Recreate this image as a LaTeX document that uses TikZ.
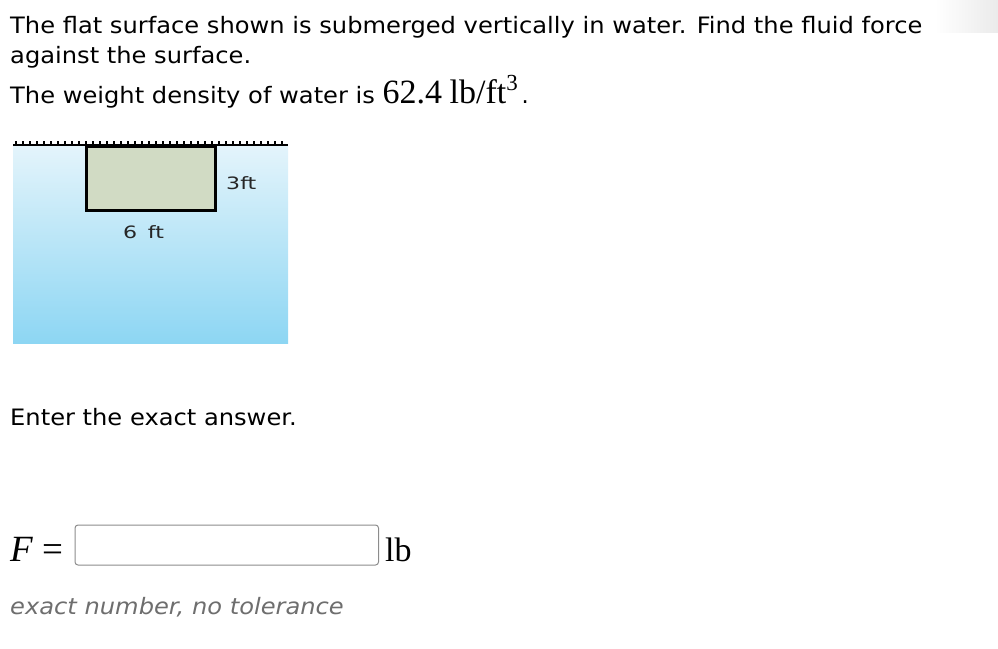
\documentclass[tikz,border=0pt]{standalone}
\usepackage{fontspec}
\usepackage{graphicx}
\setmainfont{DejaVu Sans}
\newfontfamily\mathserif{Liberation Serif}
\usetikzlibrary{positioning,calc,fadings}
\definecolor{water_top}{RGB}{228,244,251}
\definecolor{water_bottom}{RGB}{141,214,243}
\definecolor{plate_fill}{RGB}{209,219,196}
\definecolor{hint_gray}{RGB}{110,110,110}
\definecolor{box_gray}{RGB}{140,140,140}
\newcommand{\wide}[1]{\scalebox{1.069}[1]{#1}}

\begin{document}
\begin{tikzpicture}[x=1pt,y=-1pt,
    qtext/.style={anchor=base west, inner sep=0pt, font=\fontsize{22.6}{26}\selectfont},
    dimlabel/.style={anchor=base west, inner sep=0pt, font=\fontsize{17}{20}\selectfont, black!85}]
        \useasboundingbox (0,0) rectangle (998,648);
        % Faint shadow top right
        \shade[left color=white, right color=black!8] (935,0) rectangle (998,32);
        % Question text
        \node[qtext] (line1) at (10,33) {\wide{The flat surface shown is submerged vertically in water. Find the fluid force}};
        \node[qtext] (line2) at (10,63) {\wide{against the surface.}};
        \node[qtext] (line3) at (10,103) {\wide{The weight density of water is }\mathserif\fontsize{34}{36}\selectfont 62.4\hspace{-1pt} lb/ft\raisebox{13pt}{\fontsize{23}{24}\selectfont 3}\fontsize{22.6}{26}\selectfont\rmfamily\,.};
        % Water
        \coordinate (W1) at (13,145);
        \coordinate (W2) at (288,343);
        \shade[top color=water_top, bottom color=water_bottom] (W1) rectangle (W2);
        \draw[line width=1.6pt] (13,145) -- (288,145);
        \foreach \x in {16,23,...,286}
            \draw[line width=1.1pt] (\x,145) -- (\x,141);
        % Plate
        \coordinate (A) at (86.5,146.5);
        \coordinate (C) at (215.5,210.5);
        \draw[line width=2.2pt, fill=plate_fill] (A) rectangle (C);
        \node[dimlabel] (height) at (226,189) {\scalebox{1.3}[1]{3ft}};
        \node[dimlabel] (width) at (123,238) {\scalebox{1.3}[1]{6\, ft}};
        % Answer part
        \node[qtext] (enter) at (10,425) {\wide{Enter the exact answer.}};
        \node[anchor=base west, inner sep=0pt, font=\mathserif\fontsize{37}{38}\selectfont] (feq) at (10,561) {\itshape F \upshape =};
        \draw[box_gray, line width=1pt, rounded corners=3pt] (75,525) rectangle (378.5,565);
        \node[anchor=base west, inner sep=0pt, font=\mathserif\fontsize{34}{36}\selectfont] (unit) at (385,561) {lb};
        \node[qtext, hint_gray, font=\fontsize{22.6}{26}\selectfont\itshape] (hint) at (10,614) {\wide{exact number, no tolerance}};
\end{tikzpicture}
\end{document}
